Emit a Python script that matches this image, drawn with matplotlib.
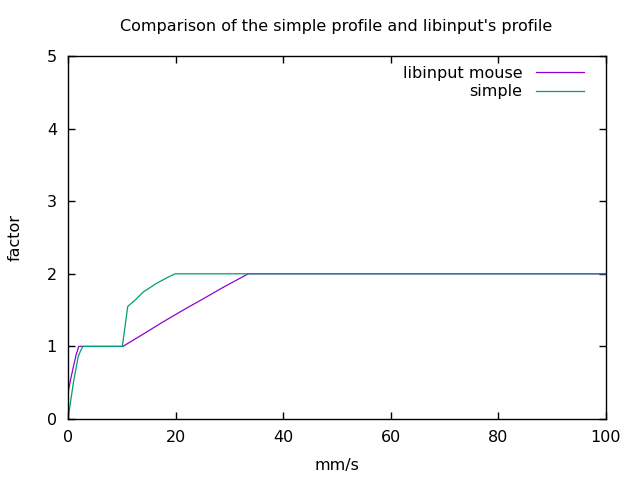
import matplotlib.pyplot as plt
from matplotlib.ticker import MultipleLocator

# speed in mm/s and acceleration factor
libinput_x = [0.0, 0.5, 1.0, 1.5, 2.0, 10.2, 14.0, 17.5, 21.4, 25.0, 29.0, 33.5, 100.0]
libinput_y = [0.36, 0.55, 0.72, 0.88, 1.0, 1.0, 1.17, 1.33, 1.50, 1.65, 1.82, 2.0, 2.0]

simple_x = [0.0, 0.5, 1.0, 1.5, 1.9, 2.4, 2.8, 10.1, 11.1, 12.5, 14.0, 16.5, 18.5, 19.9, 100.0]
simple_y = [0.0, 0.25, 0.5, 0.7, 0.86, 0.95, 1.0, 1.0, 1.55, 1.64, 1.75, 1.87, 1.95, 2.0, 2.0]

plt.rcParams['font.family'] = 'DejaVu Sans'
plt.rcParams['font.size'] = 11.5

fig = plt.figure(figsize=(6.4, 4.8), dpi=100)
ax = fig.add_axes([68/640, 61/480, 538/640, 363/480])

# 1px wide lines like gnuplot's png output
ax.plot(libinput_x, libinput_y, color='#9400d3', linewidth=0.9, label='libinput mouse')
ax.plot(simple_x, simple_y, color='#009e73', linewidth=0.9, label='simple')

ax.set_xlim(0, 100)
ax.set_ylim(0, 5)
ax.xaxis.set_major_locator(MultipleLocator(20))
ax.yaxis.set_major_locator(MultipleLocator(1))
ax.tick_params(direction='in', length=5, width=1, top=True, right=True, pad=8)
for s in ax.spines.values():
    s.set_linewidth(1)

ax.set_xlabel('mm/s', labelpad=9)
ax.set_ylabel('factor', labelpad=17)
fig.text(336/640, 1 - 27/480, "Comparison of the simple profile and libinput's profile",
         ha='center', va='center')

leg = ax.legend(loc='upper right', bbox_to_anchor=(0.971, 0.99), borderaxespad=0,
                frameon=False, markerfirst=False, handlelength=3.0,
                handletextpad=0.85, labelspacing=0.2)
for t in leg.get_texts():
    t.set_ha('right')

fig.savefig('out.png')
